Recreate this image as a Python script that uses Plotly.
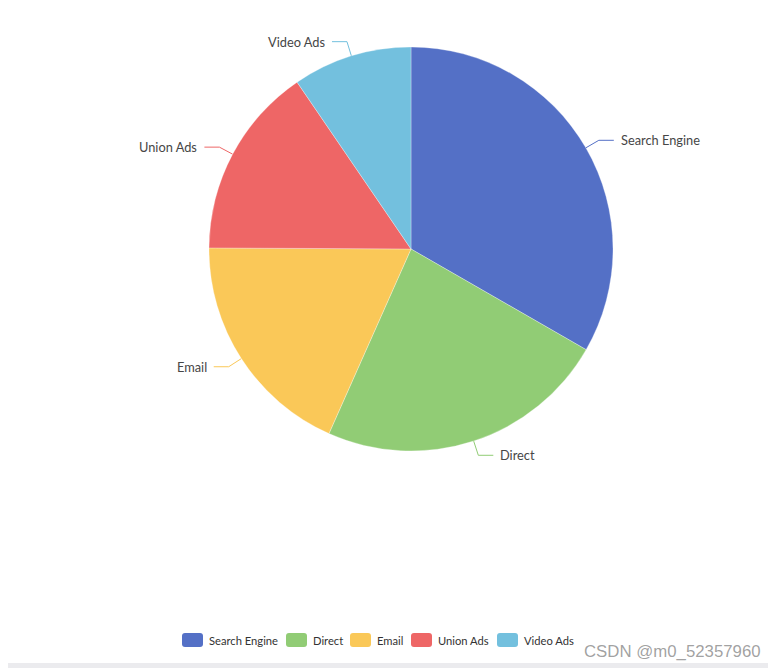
import math

import plotly.graph_objects as go

W, H = 776, 668
OFF = 8  # page body margin shifts the figure; work in screen pixels minus this

labels = ["Search Engine", "Direct", "Email", "Union Ads", "Video Ads"]
values = [1048, 735, 580, 484, 300]
colors = ["#5470c6", "#91cc75", "#fac858", "#ee6666", "#73c0de"]

# pie geometry in pixels (screen coords)
cx, cy, r = 411 - OFF, 249 - OFF, 202
len1, len2, gap = 15, 15, 5
label_font = dict(family="Lato, Noto Sans, sans-serif", size=12.8, color="#464646")
legend_font = dict(family="Lato, Noto Sans, sans-serif", size=11.2, color="#333")

fig = go.Figure()

fig.add_trace(
    go.Pie(
        labels=labels,
        values=values,
        marker=dict(colors=colors, line=dict(color="white", width=0.3)),
        sort=False,
        direction="clockwise",
        rotation=0,
        textinfo="none",
        hoverinfo="label+value+percent",
        showlegend=False,
        domain=dict(x=[(cx - r) / W, (cx + r) / W], y=[1 - (cy + r) / H, 1 - (cy - r) / H]),
    )
)

annotations = []
total = sum(values)
cum = 0
for lab, val, col in zip(labels, values, colors):
    mid = (cum + val / 2) / total * 2 * math.pi
    cum += val
    sx, sy = math.sin(mid), -math.cos(mid)
    x0, y0 = cx + r * sx, cy + r * sy
    x1, y1 = cx + (r + len1) * sx, cy + (r + len1) * sy
    side = 1 if sx >= 0 else -1
    x2 = x1 + side * len2
    fig.add_trace(
        go.Scatter(
            x=[x0, x1, x2],
            y=[y0, y1, y1],
            mode="lines",
            line=dict(color=col, width=1),
            hoverinfo="skip",
            showlegend=False,
        )
    )
    annotations.append(
        dict(
            x=x2 + side * gap,
            y=y1,
            xref="x",
            yref="y",
            text=lab,
            showarrow=False,
            xanchor="left" if side > 0 else "right",
            yanchor="middle",
            font=label_font,
        )
    )

# legend drawn by hand: rounded swatches + names along the bottom
shapes = []
legend_x = [182, 286, 350, 411, 497]
sw_w, sw_h, leg_y = 21, 14, 640 - OFF
for lx, lab, col in zip(legend_x, labels, colors):
    x0, x1 = lx - OFF, lx - OFF + sw_w
    y0, y1 = leg_y - sw_h / 2, leg_y + sw_h / 2
    k = 3
    path = (
        f"M{x0 + k},{y0} L{x1 - k},{y0} Q{x1},{y0} {x1},{y0 + k} "
        f"L{x1},{y1 - k} Q{x1},{y1} {x1 - k},{y1} L{x0 + k},{y1} "
        f"Q{x0},{y1} {x0},{y1 - k} L{x0},{y0 + k} Q{x0},{y0} {x0 + k},{y0} Z"
    )
    shapes.append(dict(type="path", path=path, xref="x", yref="y", fillcolor=col, line=dict(width=0)))
    annotations.append(
        dict(
            x=x1 + 4, y=leg_y, xref="x", yref="y", text=lab, showarrow=False,
            xanchor="left", yanchor="middle", font=legend_font,
        )
    )

# grey strip at the bottom of the page
shapes.append(
    dict(type="rect", xref="paper", yref="y", x0=0, x1=1, y0=663 - OFF, y1=H,
         fillcolor="#ebebee", line=dict(width=0), layer="below")
)

annotations.append(
    dict(
        x=763 - OFF, y=651 - OFF, xref="x", yref="y", text="CSDN @m0_52357960", showarrow=False,
        xanchor="right", yanchor="middle",
        font=dict(family="Liberation Sans, Arial, sans-serif", size=16.8, color="rgba(120,120,120,0.7)"),
    )
)

fig.update_layout(
    width=W,
    height=H,
    margin=dict(l=0, r=0, t=0, b=0),
    paper_bgcolor="white",
    plot_bgcolor="rgba(0,0,0,0)",
    xaxis=dict(range=[0, W], visible=False, fixedrange=True),
    yaxis=dict(range=[H, 0], visible=False, fixedrange=True),
    shapes=shapes,
    annotations=annotations,
    showlegend=False,
)

fig.write_html("out.html")
